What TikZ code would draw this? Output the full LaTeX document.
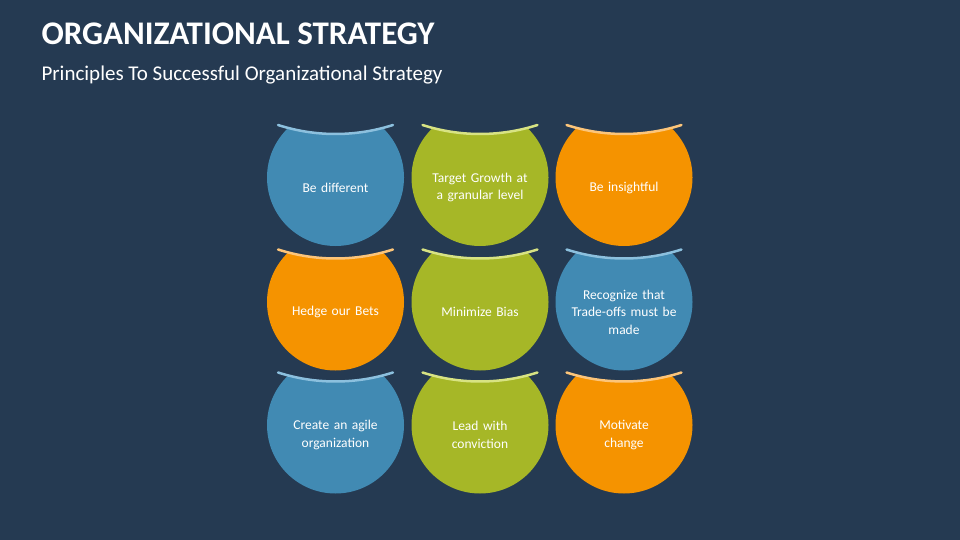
\documentclass[tikz,border=0pt]{standalone}
\usepackage{fontspec}
\setmainfont{Carlito}
\definecolor{bg}{HTML}{253A52}
\definecolor{cb}{HTML}{418AB3}\definecolor{cbl}{HTML}{8CC0DE}
\definecolor{cg}{HTML}{A6B727}\definecolor{cgl}{HTML}{D8E383}
\definecolor{co}{HTML}{F59300}\definecolor{col}{HTML}{FCC57A}
\tikzset{lbl/.style={text=white,font=\fontsize{13.5}{17.5}\selectfont,align=center,text width=115pt}}
\newcommand{\bubble}[6]{% x y color light name text
  \begin{scope}
    \clip (#1,#2-231.5) ++(64.8:188) arc (64.8:115.2:188) -- (#1-80,#2+80) -- (#1+80,#2+80) -- cycle;
    \fill[#3] (#1,#2) circle (68.5);
  \end{scope}
  \draw[#4,line width=2.5pt,line cap=round] (#1,#2-231.5) ++(72.2:188) arc (72.2:107.8:188);
  \node[lbl] (#5) at (#1,#2+10) {#6};
}
\begin{document}
\begin{tikzpicture}[x=1pt,y=-1pt]
\useasboundingbox (0,0) rectangle (960,540);
\fill[bg] (0,0) rectangle (960,540);
\node[anchor=west,text=white,font=\fontsize{33}{36}\bfseries\selectfont] (title) at (38,34) {ORGANIZATIONAL STRATEGY};
\node[anchor=west,text=white,font=\fontsize{21}{24}\selectfont] (sub) at (38,75) {Principles To Successful Organizational Strategy};
\bubble{335.5}{177.5}{cb}{cbl}{a}{Be different}
\bubble{480}{177.5}{cg}{cgl}{b}{Target Growth at\\a granular level}
\bubble{624}{177.5}{co}{col}{c}{Be insightful}
\bubble{335.5}{302}{co}{col}{d}{Hedge our Bets}
\bubble{480}{302}{cg}{cgl}{e}{Minimize Bias}
\bubble{624}{302}{cb}{cbl}{f}{Recognize that\\Trade-offs must be\\made}
\bubble{335.5}{425}{cb}{cbl}{g}{Create an agile\\organization}
\bubble{480}{425}{cg}{cgl}{h}{Lead with\\conviction}
\bubble{624}{425}{co}{col}{i}{Motivate\\change}
\end{tikzpicture}
\end{document}
